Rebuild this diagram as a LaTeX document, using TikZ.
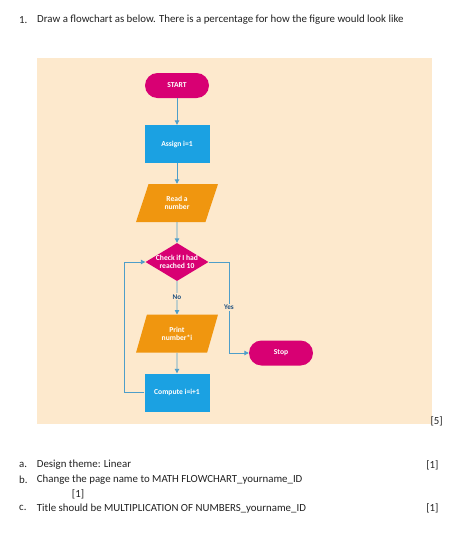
\documentclass[tikz,border=0pt]{standalone}
\usepackage{fontspec}
\setmainfont{Carlito}
\usetikzlibrary{shapes.geometric,arrows.meta}
\definecolor{peach}{HTML}{FDE9CD}
\definecolor{mag}{HTML}{D80073}
\definecolor{fblue}{HTML}{1BA1E2}
\definecolor{forange}{HTML}{F0960F}
\definecolor{conn}{HTML}{4E9EC9}
\definecolor{lbl}{HTML}{1F5080}
\definecolor{txt}{HTML}{222222}
\tikzset{
  base/.style={font=\fontsize{7.6}{8.6}\selectfont\bfseries, text=white, align=center, inner sep=0pt},
  pill/.style={base, fill=mag, rounded corners=12.5pt, minimum width=64pt, minimum height=25pt},
  box/.style={base, fill=fblue, minimum width=65pt, minimum height=38pt},
  para/.style={base, fill=forange, trapezium, trapezium left angle=68.5, trapezium right angle=111.5, trapezium stretches=true, minimum width=82pt, minimum height=38pt},
  dia/.style={base, fill=mag, diamond, minimum width=63pt, minimum height=38pt},
  conn/.style={draw=conn, line width=0.9pt, -{Triangle[width=4.5pt,length=4.5pt]}},
  lab/.style={font=\fontsize{7.2}{8}\selectfont\bfseries, text=lbl, fill=peach, inner sep=1pt},
  doc/.style={font=\fontsize{10.85}{13}\selectfont, text=txt, inner sep=0pt}
}
\begin{document}
\begin{tikzpicture}[x=1pt,y=-1pt]
\useasboundingbox (0,0) rectangle (474,550);
\fill[white] (0,0) rectangle (474,550);
\fill[peach] (37,58) rectangle (432,424);
\node[doc, anchor=west] (num1) at (19,20) {1.};
\node[doc, anchor=west] (title) at (37,20) {Draw a flowchart as below. There is a percentage for how the figure would look like};
\node[pill] (start) at (177,85.5) {START};
\node[box] (assign) at (177,144) {Assign i=1};
\node[para] (read) at (177,203) {Read a\\number};
\node[dia, label={[base]center:Check if I had\\reached 10}] (check) at (177,262) {};
\node[para] (print) at (177,333.7) {Print\\number*i};
\node[box] (compute) at (177,392.5) {Compute i=i+1};
\node[pill] (stop) at (281,353) {Stop};
\coordinate (yesc) at (229,353);
\coordinate (loopc) at (124.5,392.5);
\draw[conn] (start) -- (assign);
\draw[conn] (assign) -- (read);
\draw[conn] (read) -- (check);
\draw[conn] (check) -- node[lab, pos=0.47] (no) {No} (print);
\draw[conn] (check.east) -| node[lab, pos=0.75] (yes) {Yes} (yesc) -- (stop);
\draw[conn] (print) -- (compute);
\draw[conn] (compute.west) -- (loopc) |- (check.west);
\node[doc, anchor=east] (m5) at (443,421) {[5]};
\node[doc, anchor=west] (la) at (19,465) {a.};
\node[doc, anchor=west] (ta) at (36.7,465) {Design theme: Linear};
\node[doc, anchor=east] (ma) at (438.7,465) {[1]};
\node[doc, anchor=west] (lb) at (19,480) {b.};
\node[doc, anchor=west] (tb) at (36.7,480) {Change the page name to MATH FLOWCHART\_yourname\_ID};
\node[doc] (mb) at (78,494.3) {[1]};
\node[doc, anchor=west] (lc) at (19,508.3) {c.};
\node[doc, anchor=west] (tc) at (36.7,508.3) {Title should be MULTIPLICATION OF NUMBERS\_yourname\_ID};
\node[doc, anchor=east] (mc) at (438.7,508.3) {[1]};
\end{tikzpicture}
\end{document}
